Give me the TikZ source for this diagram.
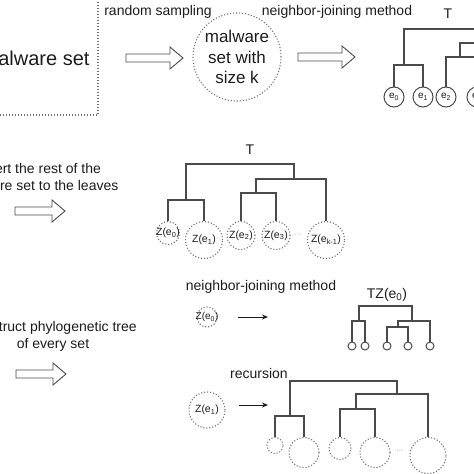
\documentclass[tikz,border=0pt]{standalone}
\usepackage{fontspec}
\setmainfont{Liberation Sans}
\usetikzlibrary{arrows.meta}

\definecolor{treegray}{HTML}{4A4A4A}
\definecolor{dotgray}{HTML}{707070}
\definecolor{txt}{HTML}{1C1C1C}

\tikzset{
  branch/.style={draw=treegray, line width=1.2pt},
  dotline/.style={draw=dotgray, line width=1.1pt, dash pattern=on 1.1pt off 1.9pt},
  zleaf/.style={circle, dotline, minimum size=#1, inner sep=0pt},
  eleaf/.style={circle, draw=treegray, line width=1pt, minimum size=20, inner sep=0pt,
    font=\fontsize{10}{12}\selectfont},
  tipleaf/.style={circle, draw=treegray, line width=1pt, minimum size=8, inner sep=0pt},
  hollow/.style={draw=treegray, line width=0.9pt, fill=white, line join=miter},
  pointer/.style={draw=txt, line width=1pt, -{Stealth[length=6pt, width=5pt]}},
  dots/.style={text=dotgray, font=\fontsize{7}{8}\selectfont},
}

\begin{document}
\begin{tikzpicture}[x=1pt, y=-1pt, font=\fontsize{14}{17}\selectfont, text=txt]
  \useasboundingbox (0,0) rectangle (474,474);
  \clip (0,0) rectangle (474,474);

  % Ausgangsmenge und Stichprobe
  \draw[dotline] (-120,-20) rectangle (98,115);
  \node[font=\fontsize{20}{24}\selectfont, anchor=east] (full) at (93,58) {malware set};
  \node[circle, dotline, minimum size=88, inner sep=0pt, align=center,
    font=\fontsize{17}{20.5}\selectfont] (sample) at (237,57) {malware\\set with\\size k};
  \node (rs) at (158,12) {random sampling};
  \node (nj) at (337,12) {neighbor-joining method};

  % Hohlpfeile
  \foreach \xa/\xb/\ya in {126/183/58, 298/355/57, 15/65/211, 16/66/374} {
    \draw[hollow] (\xa,\ya-4) -- (\xb-13,\ya-4) -- (\xb-13,\ya-11) -- (\xb,\ya)
      -- (\xb-13,\ya+11) -- (\xb-13,\ya+4) -- (\xa,\ya+4) -- cycle;
  }

  % Baum T oben rechts
  \foreach \name/\x/\lab in {e0/394/0, e1/423/1, e2/446/2, e3/477/3} {
    \node[eleaf] (\name) at (\x,97) {e\textsubscript{\lab}};
  }
  \coordinate (t01) at (404,65);
  \coordinate (t23) at (460,57);
  \coordinate (t2x) at (520,43);
  \coordinate (troot) at (520,29);
  \draw[branch] (e0.north) |- (t01) -| (e1.north);
  \draw[branch] (e2.north) |- (t23) -| (e3.north);
  \draw[branch] (t23) |- (t2x);
  \draw[branch] (t01) |- (troot);
  \node (T1) at (448,14) {T};

  % Rest einsortieren
  \node[align=center] (insert) at (39,177) {insert the rest of the\\malware set to the leaves};
  \foreach \name/\x/\r/\lab in {z0/168/23/0, z1/204/37/1, z2/241/28/2, z3/276/28/3, zk/326/37/{k-1}} {
    \node[zleaf=\r, anchor=north,
      label={[font=\fontsize{10.5}{12}\selectfont]center:Z(e\textsubscript{\lab})}] (\name) at (\x,221) {};
  }
  \coordinate (m01) at (186,200);
  \coordinate (m23) at (256,193);
  \coordinate (m2k) at (294,179);
  \coordinate (mroot) at (250,164);
  \draw[branch] (z0.north) |- (m01) -| (z1.north);
  \draw[branch] (z2.north) |- (m23) -| (z3.north);
  \draw[branch] (m23) |- (m2k) -| (zk.north);
  \draw[branch] (m01) |- (mroot) -| (m2k);
  \node (T2) at (250,150) {T};
  \node[dots] (d1) at (298,235) {···};

  % Teilbaeume
  \node[align=center] (build) at (53,336) {construct phylogenetic tree\\of every set};
  \node (nj2) at (261,287) {neighbor-joining method};
  \node[zleaf=20, label={[font=\fontsize{10}{12}\selectfont]center:Z(e\textsubscript{0})}] (s0) at (207,317) {};
  \coordinate (a0s) at (238,317);
  \coordinate (a0e) at (268,317);
  \draw[pointer] (a0s) -- (a0e);

  \foreach \name/\x in {p1/352, p2/365, p3/387, p4/408, p5/430} {
    \node[tipleaf] (\name) at (\x,346) {};
  }
  \coordinate (s12) at (359,321);
  \coordinate (s34) at (398,327);
  \coordinate (s345) at (412,321);
  \coordinate (sroot) at (386,306);
  \draw[branch] (p1.north) |- (s12) -| (p2.north);
  \draw[branch] (p3.north) |- (s34) -| (p4.north);
  \draw[branch] (s34) |- (s345) -| (p5.north);
  \draw[branch] (s12) |- (sroot) -| (s345);
  \node (T3) at (387,295) {TZ(e\textsubscript{0})};

  % Rekursion
  \node (rec) at (259,373) {recursion};
  \node[zleaf=36, label={[font=\fontsize{10.5}{12}\selectfont]center:Z(e\textsubscript{1})}] (s1) at (207,410) {};
  \coordinate (a1s) at (239,405);
  \coordinate (a1e) at (268,405);
  \draw[pointer] (a1s) -- (a1e);

  \foreach \name/\x/\r in {r1/275/16, r2/304/30, r3/340/22, r4/375/30, r5/428/36} {
    \node[zleaf=\r, anchor=north] (\name) at (\x,437) {};
  }
  \coordinate (q12) at (290,416);
  \coordinate (q34) at (356,409);
  \coordinate (q345) at (397,394);
  \coordinate (qroot) at (343,381);
  \draw[branch] (r1.north) |- (q12) -| (r2.north);
  \draw[branch] (r3.north) |- (q34) -| (r4.north);
  \draw[branch] (q34) |- (q345) -| (r5.north);
  \draw[branch] (q12) |- (qroot) -| (q345);
  \node[dots] (d2) at (400,451) {···};
\end{tikzpicture}
\end{document}
